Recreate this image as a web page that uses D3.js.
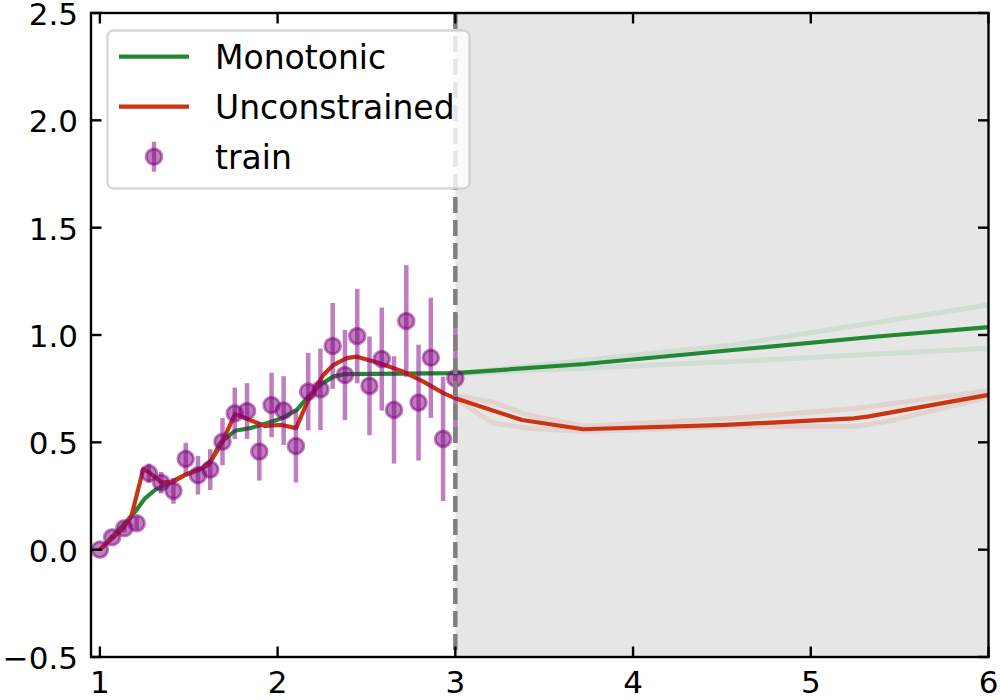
<!DOCTYPE html>
<html><head><meta charset="utf-8">
<script src="https://cdn.jsdelivr.net/npm/d3@7"></script>
<style>html,body{margin:0;padding:0;background:#fff}svg{display:block}text{font-family:"DejaVu Sans",sans-serif}</style>
</head><body><svg id="c" width="1000" height="700"></svg>
<script>
// ---- data ----
const trainX = [1.000,1.069,1.138,1.207,1.276,1.345,1.414,1.483,1.552,1.621,1.690,1.759,1.828,1.897,1.966,2.034,2.103,2.172,2.241,2.310,2.379,2.448,2.517,2.586,2.655,2.724,2.793,2.862,2.931,3.000];
const trainY = [0.000,0.058,0.100,0.123,0.356,0.312,0.274,0.423,0.347,0.373,0.503,0.635,0.646,0.457,0.674,0.648,0.483,0.736,0.747,0.949,0.814,0.995,0.763,0.888,0.651,1.065,0.685,0.894,0.516,0.798];
const trainErr = [0.00,0.01,0.02,0.03,0.045,0.05,0.06,0.075,0.09,0.095,0.11,0.12,0.13,0.135,0.15,0.16,0.17,0.18,0.19,0.20,0.21,0.22,0.23,0.24,0.25,0.26,0.27,0.28,0.29,0.30];

const monoX = [1.0,1.141,1.198,1.254,1.310,1.404,1.479,1.573,1.629,1.676,1.760,1.845,1.939,2.023,2.108,2.164,2.239,2.313,2.379,3.0,3.728,4.563,5.359,6.0];
const monoY = [0.0,0.123,0.177,0.239,0.278,0.317,0.348,0.379,0.418,0.496,0.554,0.566,0.589,0.612,0.651,0.705,0.767,0.806,0.818,0.822,0.865,0.930,0.992,1.037];

const uncX = [1.0,1.132,1.179,1.244,1.272,1.348,1.413,1.479,1.554,1.610,1.686,1.760,1.845,1.929,2.023,2.104,2.164,2.257,2.313,2.389,2.445,2.576,2.707,2.820,2.933,3.0,3.375,3.72,4.52,5.243,5.32,6.0];
const uncY = [0.0,0.100,0.162,0.375,0.363,0.312,0.317,0.348,0.371,0.395,0.496,0.632,0.604,0.576,0.581,0.566,0.682,0.814,0.860,0.892,0.899,0.868,0.829,0.783,0.729,0.705,0.604,0.561,0.581,0.612,0.620,0.721];

const monoHiX = [3.0,4.56,6.0];
const monoHiY = [0.82,0.954,1.14];
const monoLoX = [3.0,3.73,4.56,6.0];
const monoLoY = [0.82,0.845,0.876,0.938];
const uncHiX = [3.0,3.21,3.41,3.73,4.56,5.25,6.0];
const uncHiY = [0.718,0.688,0.627,0.575,0.612,0.658,0.74];
const uncLoX = [3.0,3.21,3.41,3.73,4.56,5.25,5.45,6.0];
const uncLoY = [0.705,0.59,0.566,0.55,0.574,0.574,0.60,0.71];

const xTicks = [1,2,3,4,5,6];
const yTicks = [-0.5,0.0,0.5,1.0,1.5,2.0,2.5];
const legendLabels = ["Monotonic","Unconstrained","train"];

// ---- drawing ----
const L=91, R=988.5, T=13, B=657;
const GREEN="#228833", RED="#cc3311", PURPLE="#800080";
const svg = d3.select("#c");
const x = d3.scaleLinear().domain([0.95,6]).range([L,R]);
const y = d3.scaleLinear().domain([-0.5,2.5]).range([B,T]);

svg.append("defs").append("clipPath").attr("id","clip")
  .append("rect").attr("x",L).attr("y",T).attr("width",R-L).attr("height",B-T);
const g = svg.append("g").attr("clip-path","url(#clip)");

// shaded test region
g.append("rect").attr("x",x(3)).attr("y",T).attr("width",x(6)-x(3)).attr("height",B-T)
  .attr("fill","#808080").attr("fill-opacity",0.2);

const line = d3.line().x(d=>x(d[0])).y(d=>y(d[1]));
const zipped = (a,b)=>a.map((v,i)=>[v,b[i]]);

// faint bounds
[[monoHiX,monoHiY,GREEN],[monoLoX,monoLoY,GREEN],[uncHiX,uncHiY,RED],[uncLoX,uncLoY,RED]].forEach(([xs,ys,c])=>{
  g.append("path").attr("d",line(zipped(xs,ys))).attr("fill","none")
   .attr("stroke",c).attr("stroke-opacity",0.1).attr("stroke-width",5).attr("stroke-linejoin","round");
});

g.append("path").attr("d",line(zipped(monoX,monoY))).attr("fill","none")
  .attr("stroke",GREEN).attr("stroke-width",4.2).attr("stroke-linejoin","round");
g.append("path").attr("d",line(zipped(uncX,uncY))).attr("fill","none")
  .attr("stroke",RED).attr("stroke-width",4.2).attr("stroke-linejoin","round");

// error bars + markers
trainX.forEach((xv,i)=>{
  g.append("line").attr("x1",x(xv)).attr("x2",x(xv))
   .attr("y1",y(trainY[i]-trainErr[i])).attr("y2",y(trainY[i]+trainErr[i]))
   .attr("stroke",PURPLE).attr("stroke-opacity",0.5).attr("stroke-width",4.5);
  g.append("circle").attr("cx",x(xv)).attr("cy",y(trainY[i])).attr("r",7.8)
   .attr("fill",PURPLE).attr("fill-opacity",0.5)
   .attr("stroke",PURPLE).attr("stroke-opacity",0.5).attr("stroke-width",3);
});

// dashed vertical line
g.append("line").attr("x1",x(3)).attr("x2",x(3)).attr("y1",T).attr("y2",B)
  .attr("stroke","#808080").attr("stroke-width",4.5).attr("stroke-dasharray","16,7");

// ticks (inward, all four sides)
const tk = svg.append("g").attr("stroke","#000").attr("stroke-width",2.4);
xTicks.forEach(v=>{
  tk.append("line").attr("x1",x(v)).attr("x2",x(v)).attr("y1",B).attr("y2",B-10.5);
  tk.append("line").attr("x1",x(v)).attr("x2",x(v)).attr("y1",T).attr("y2",T+10.5);
});
yTicks.forEach(v=>{
  tk.append("line").attr("x1",L).attr("x2",L+10.5).attr("y1",y(v)).attr("y2",y(v));
  tk.append("line").attr("x1",R).attr("x2",R-10.5).attr("y1",y(v)).attr("y2",y(v));
});
// spines
svg.append("rect").attr("x",L).attr("y",T).attr("width",R-L).attr("height",B-T)
  .attr("fill","none").attr("stroke","#000").attr("stroke-width",2.4);

// tick labels
const fmt = v => (v<0?"\u2212":"") + Math.abs(v).toFixed(1);
xTicks.forEach(v=>{
  svg.append("text").attr("x",x(v)).attr("y",693).attr("text-anchor","middle")
    .attr("font-size",31).text(String(v));
});
yTicks.forEach(v=>{
  svg.append("text").attr("x",78).attr("y",y(v)+12).attr("text-anchor","end")
    .attr("font-size",31).text(fmt(v));
});

// legend
const lg = svg.append("g");
lg.append("rect").attr("x",107.5).attr("y",30.5).attr("width",362).attr("height",158).attr("rx",6)
  .attr("fill","#fff").attr("fill-opacity",0.8).attr("stroke","#cccccc").attr("stroke-opacity",0.8).attr("stroke-width",2.4);
const rows = [56.7,106.7,156.7];
lg.append("line").attr("x1",119).attr("x2",189).attr("y1",rows[0]).attr("y2",rows[0]).attr("stroke",GREEN).attr("stroke-width",4.2);
lg.append("line").attr("x1",119).attr("x2",189).attr("y1",rows[1]).attr("y2",rows[1]).attr("stroke",RED).attr("stroke-width",4.2);
lg.append("line").attr("x1",154).attr("x2",154).attr("y1",rows[2]-15).attr("y2",rows[2]+15)
  .attr("stroke",PURPLE).attr("stroke-opacity",0.5).attr("stroke-width",4.5);
lg.append("circle").attr("cx",154).attr("cy",rows[2]).attr("r",7.8)
  .attr("fill",PURPLE).attr("fill-opacity",0.5).attr("stroke",PURPLE).attr("stroke-opacity",0.5).attr("stroke-width",3);
legendLabels.forEach((t,i)=>{
  lg.append("text").attr("x",215).attr("y",rows[i]+11.9).attr("font-size",33).text(t);
});
</script></body></html>
